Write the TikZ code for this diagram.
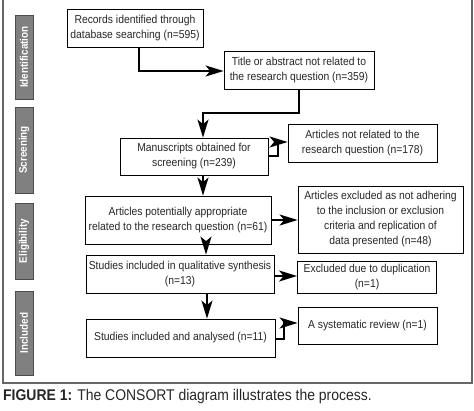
\documentclass[tikz,border=0pt]{standalone}
\usepackage{fontspec}
\setmainfont{Liberation Sans}[FakeStretch=0.9]
\usetikzlibrary{arrows.meta}
\begin{document}
\begin{tikzpicture}[x=1pt,y=-1pt,
  box/.style={draw=black,line width=0.8pt,rectangle,inner sep=0pt,align=center,font=\fontsize{11.5}{15}\selectfont,text=black!85},
  side/.style={draw=black!70,fill=black!50,line width=1pt,rectangle,inner sep=0pt,minimum height=18pt,text=white,font=\fontsize{11}{12}\selectfont\bfseries,rotate=90},
  conn/.style={line width=1.8pt,-{Stealth[length=18pt,width=11pt,inset=4.5pt]}}]
\useasboundingbox (0,0) rectangle (474,410);
% frame
\draw[line width=2pt,black!60] (3,0) -- (3,383) -- (472,383) -- (472,0);
% side labels
\node[side,minimum width=84pt] (s1) at (24,57) {Identification};
\node[side,minimum width=86pt] (s2) at (24,150) {Screening};
\node[side,minimum width=76pt] (s3) at (24,241) {Eligibility};
\node[side,minimum width=84pt] (s4) at (24,333) {Included};
% boxes
\node[box,minimum width=136pt,minimum height=38pt] (rec) at (135,28) {Records identified through\\database searching (n=595)};
\node[box,minimum width=150pt,minimum height=38pt] (tit) at (299,70) {Title or abstract not related to\\the research question (n=359)};
\node[box,minimum width=148pt,minimum height=37pt] (man) at (194,156.5) {Manuscripts obtained for\\screening (n=239)};
\node[box,minimum width=149pt,minimum height=38pt] (anr) at (362.5,143) {Articles not related to the\\research question (n=178)};
\node[box,minimum width=186pt,minimum height=48pt] (ap) at (178,220) {Articles potentially appropriate\\related to the research question (n=61)};
\node[box,minimum width=165pt,minimum height=67pt] (ae) at (380.5,219.5) {Articles excluded as not adhering\\to the inclusion or exclusion\\criteria and replication of\\data presented (n=48)};
\node[box,minimum width=188pt,minimum height=38pt] (sq) at (180,274) {Studies included in qualitative synthesis\\(n=13)};
\node[box,minimum width=139pt,minimum height=32pt] (ed) at (367,277.5) {Excluded due to duplication\\(n=1)};
\node[box,minimum width=189pt,minimum height=38pt] (sa) at (180.5,338) {Studies included and analysed (n=11)};
\node[box,minimum width=139pt,minimum height=37pt] (sr) at (367.5,325.5) {A systematic review (n=1)};
% connectors
\draw[conn] (rec.south -| 139,0) |- (tit.west |- 0,71);
\draw[conn] (tit.south) |- (203,113) -- (man.north -| 203,0);
\draw[conn] (man.east |- 0,156) -- (278,156) |- (anr.west |- 0,142);
\draw[conn] (man.south -| 203,0) -- (ap.north -| 203,0);
\draw[conn] (ap.east |- 0,220) -- (ae.west |- 0,220);
\draw[conn] (ap.south -| 206,0) -- (sq.north -| 206,0);
\draw[conn] (sq.east |- 0,276) -- (ed.west |- 0,276);
\draw[conn] (sq.south -| 207,0) -- (sa.north -| 207,0);
\draw[conn] (sa.east |- 0,339) -- (284,339) |- (sr.west |- 0,323);
% caption
\node[anchor=base west,inner sep=0pt,font=\fontsize{15.5}{17}\selectfont,text=black!85] (cap) at (3,400) {\textbf{FIGURE 1:} The CONSORT diagram illustrates the process.};
\end{tikzpicture}
\end{document}
